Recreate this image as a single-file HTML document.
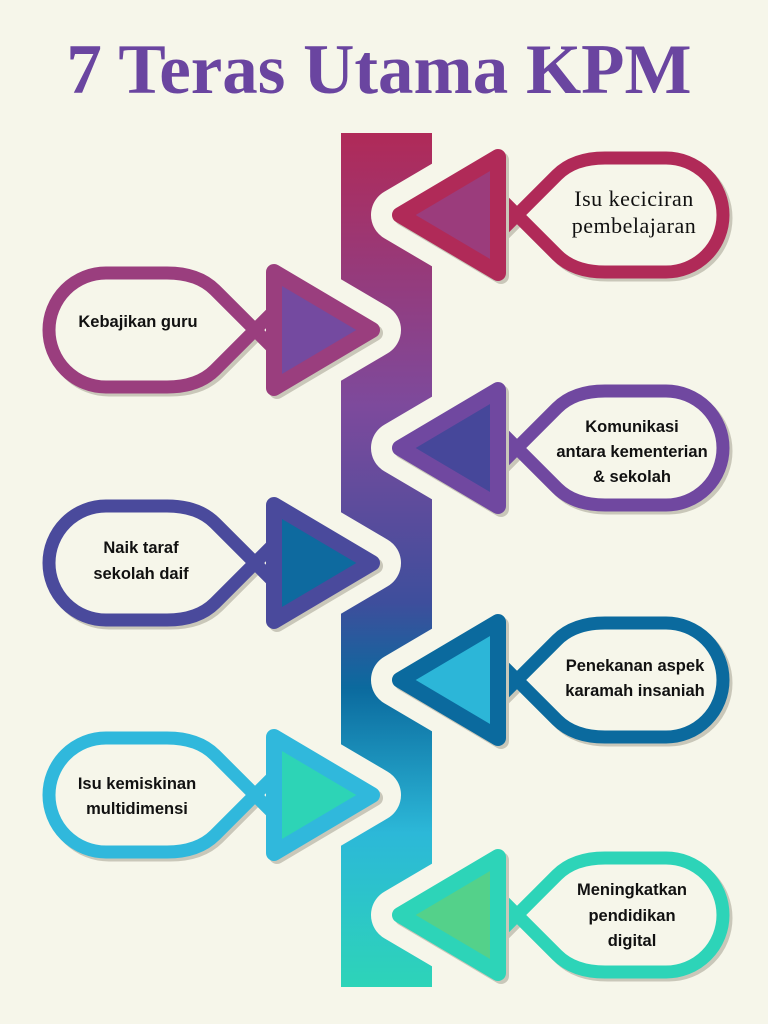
<!DOCTYPE html>
<html><head><meta charset="utf-8"><style>
html,body{margin:0;padding:0;background:#f6f6ea;}
svg{display:block}
.t{font-family:"Liberation Sans",sans-serif;font-weight:bold;font-size:16.5px;fill:#111;text-anchor:middle}
.s{font-family:"Liberation Serif",serif;font-size:22px;fill:#111;text-anchor:middle;letter-spacing:0.5px}
</style></head><body>
<svg width="768" height="1024" viewBox="0 0 768 1024" xmlns="http://www.w3.org/2000/svg">
<defs>
<linearGradient id="sp" x1="0" y1="133" x2="0" y2="987" gradientUnits="userSpaceOnUse">
<stop offset="0" stop-color="#b02a58"/>
<stop offset="0.32" stop-color="#7d4a9c"/>
<stop offset="0.55" stop-color="#3e4e9c"/>
<stop offset="0.65" stop-color="#0b6a9e"/>
<stop offset="0.82" stop-color="#2cb8d8"/>
<stop offset="1" stop-color="#2dd4b8"/>
</linearGradient>
<path id="halo" d="M398,0 L500,-60 L500,60 Z" fill="#f6f6ea" stroke="#f6f6ea" stroke-width="54" stroke-linejoin="round"/>
<path id="loop" stroke-linejoin="round" d="M488,-29 L517,0 L557,40 Q574,57 605,57 L666,57 A57,57 0 0 0 666,-57 L605,-57 Q574,-57 557,-40 L517,0 L488,29"/>
<path id="tri" stroke-linejoin="round" stroke-width="16" d="M400,0 L498,-58 L498,58 Z"/>
</defs>
<text x="379" y="93" text-anchor="middle" font-family="Liberation Serif,serif" font-weight="bold" font-size="71" fill="#6a45a0">7 Teras Utama KPM</text>
<rect x="341" y="133" width="91" height="854" fill="url(#sp)"/>

<use href="#halo" transform="translate(0,215)"/>
<use href="#halo" transform="translate(772,330) scale(-1,1)"/>
<use href="#halo" transform="translate(0,448)"/>
<use href="#halo" transform="translate(772,563) scale(-1,1)"/>
<use href="#halo" transform="translate(0,680)"/>
<use href="#halo" transform="translate(772,795) scale(-1,1)"/>
<use href="#halo" transform="translate(0,915)"/>

<g transform="translate(0,215)">
<use href="#loop" transform="translate(3,3)" fill="none" stroke="#c9c7b9" stroke-width="13"/>
<use href="#loop" fill="#f6f6ea" stroke="#b02a58" stroke-width="13"/>
<use href="#tri" transform="translate(3,3)" fill="#c9c7b9" stroke="#c9c7b9"/>
<use href="#tri" fill="#9b3c7c" stroke="#b02a58"/>
</g>
<g transform="translate(772,330) scale(-1,1)">
<use href="#loop" transform="translate(-3,3)" fill="none" stroke="#c9c7b9" stroke-width="13"/>
<use href="#loop" fill="#f6f6ea" stroke="#9a3e7e" stroke-width="13"/>
<use href="#tri" transform="translate(-3,3)" fill="#c9c7b9" stroke="#c9c7b9"/>
<use href="#tri" fill="#744aa0" stroke="#9a3e7e"/>
</g>
<g transform="translate(0,448)">
<use href="#loop" transform="translate(3,3)" fill="none" stroke="#c9c7b9" stroke-width="13"/>
<use href="#loop" fill="#f6f6ea" stroke="#7048a0" stroke-width="13"/>
<use href="#tri" transform="translate(3,3)" fill="#c9c7b9" stroke="#c9c7b9"/>
<use href="#tri" fill="#46479a" stroke="#7048a0"/>
</g>
<g transform="translate(772,563) scale(-1,1)">
<use href="#loop" transform="translate(-3,3)" fill="none" stroke="#c9c7b9" stroke-width="13"/>
<use href="#loop" fill="#f6f6ea" stroke="#4a4a9c" stroke-width="13"/>
<use href="#tri" transform="translate(-3,3)" fill="#c9c7b9" stroke="#c9c7b9"/>
<use href="#tri" fill="#0e6a9f" stroke="#4a4a9c"/>
</g>
<g transform="translate(0,680)">
<use href="#loop" transform="translate(3,3)" fill="none" stroke="#c9c7b9" stroke-width="13"/>
<use href="#loop" fill="#f6f6ea" stroke="#0b6a9e" stroke-width="13"/>
<use href="#tri" transform="translate(3,3)" fill="#c9c7b9" stroke="#c9c7b9"/>
<use href="#tri" fill="#2cb6d8" stroke="#0b6a9e"/>
</g>
<g transform="translate(772,795) scale(-1,1)">
<use href="#loop" transform="translate(-3,3)" fill="none" stroke="#c9c7b9" stroke-width="13"/>
<use href="#loop" fill="#f6f6ea" stroke="#30b8dc" stroke-width="13"/>
<use href="#tri" transform="translate(-3,3)" fill="#c9c7b9" stroke="#c9c7b9"/>
<use href="#tri" fill="#2dd4b6" stroke="#30b8dc"/>
</g>
<g transform="translate(0,915)">
<use href="#loop" transform="translate(3,3)" fill="none" stroke="#c9c7b9" stroke-width="13"/>
<use href="#loop" fill="#f6f6ea" stroke="#2dd4b8" stroke-width="13"/>
<use href="#tri" transform="translate(3,3)" fill="#c9c7b9" stroke="#c9c7b9"/>
<use href="#tri" fill="#54d18a" stroke="#2dd4b8"/>
</g>

<text class="s" x="634" y="206">Isu keciciran</text>
<text class="s" x="634" y="233">pembelajaran</text>
<text class="t" x="138" y="327">Kebajikan guru</text>
<text class="t" x="632" y="432">Komunikasi</text>
<text class="t" x="632" y="457">antara kementerian</text>
<text class="t" x="632" y="482">&amp; sekolah</text>
<text class="t" x="141" y="553">Naik taraf</text>
<text class="t" x="141" y="579">sekolah daif</text>
<text class="t" x="635" y="671">Penekanan aspek</text>
<text class="t" x="635" y="696">karamah insaniah</text>
<text class="t" x="137" y="789">Isu kemiskinan</text>
<text class="t" x="137" y="814">multidimensi</text>
<text class="t" x="632" y="895">Meningkatkan</text>
<text class="t" x="632" y="921">pendidikan</text>
<text class="t" x="632" y="946">digital</text>
</svg>
</body></html>
